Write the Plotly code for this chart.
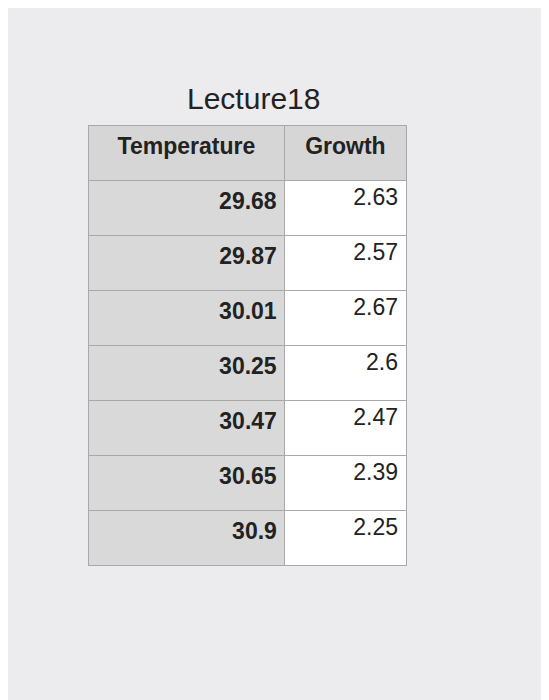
import plotly.graph_objects as go

headers = ["Temperature", "Growth"]
temperature = ["29.68", "29.87", "30.01", "30.25", "30.47", "30.65", "30.9"]
growth = ["2.63", "2.57", "2.67", "2.6", "2.47", "2.39", "2.25"]

W, H = 549, 700
fig = go.Figure(go.Table(
    domain=dict(x=[80/W, 398/W], y=[1-562/H, 1-117/H]),
    columnwidth=[195, 120],
    header=dict(values=[f"<b>{h}</b>" for h in headers],
                fill_color="#d6d6d6", line_color="#a8a8a8",
                font=dict(family="Liberation Sans, Arial", size=23, color="#222"),
                align="center", height=55),
    cells=dict(values=[[f"<b>{t}</b>" for t in temperature], growth],
               fill_color=[["#d9d9d9"]*7, ["#ffffff"]*7], line_color="#a8a8a8",
               font=dict(family="Liberation Sans, Arial", size=23, color="#222"),
               align="right", height=55),
))
fig.add_shape(type="rect", xref="paper", yref="paper", x0=-0.02, x1=0, y0=-0.02, y1=1.02,
              fillcolor="#7f9fd6", line_width=0, layer="below")
fig.add_annotation(text="Lecture18", x=245/W, y=1-72/H, xref="paper", yref="paper",
                   showarrow=False, font=dict(family="Liberation Sans, Arial", size=30, color="#222"))
fig.update_layout(width=W, height=H, margin=dict(l=0, r=0, t=0, b=0),
                  paper_bgcolor="#ececee", plot_bgcolor="#ececee")
fig.write_html("out.html")
